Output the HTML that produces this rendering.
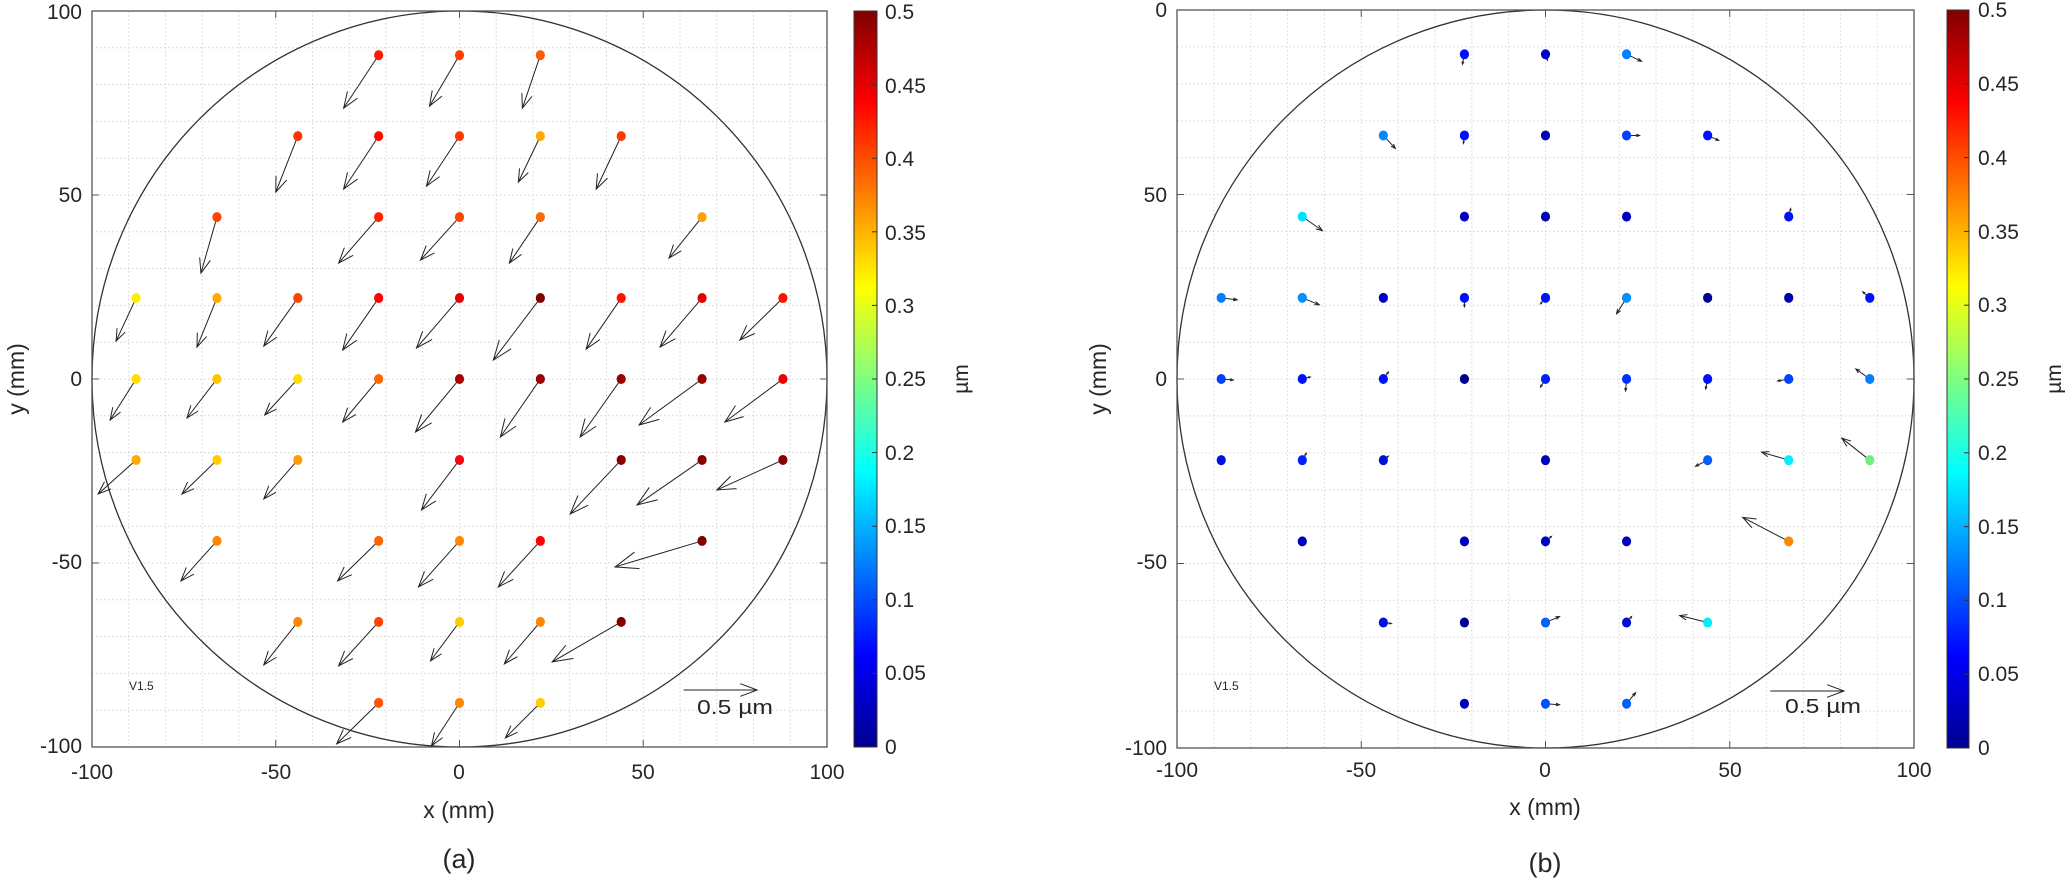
<!DOCTYPE html>
<html><head><meta charset="utf-8">
<style>
html,body{margin:0;padding:0;background:#fff;}
svg{display:block;}
text{font-family:"Liberation Sans",Arial,sans-serif;fill:#262626;}
</style></head>
<body>
<svg id="s" width="2065" height="885" viewBox="0 0 2065 885" xmlns="http://www.w3.org/2000/svg">
<defs>
<linearGradient id="jet" x1="0" y1="1" x2="0" y2="0">
<stop offset="0" stop-color="#00008f"/>
<stop offset="0.125" stop-color="#0000ff"/>
<stop offset="0.375" stop-color="#00ffff"/>
<stop offset="0.625" stop-color="#ffff00"/>
<stop offset="0.875" stop-color="#ff0000"/>
<stop offset="1" stop-color="#800000"/>
</linearGradient>
</defs>
<g id="gA"></g>
<g id="gB"></g>
<!-- Left labels -->
<g font-size="21" text-anchor="end">
<text x="82" y="19">100</text><text x="82" y="202">50</text><text x="82" y="386">0</text><text x="82" y="569">-50</text><text x="82" y="753">-100</text>
</g>
<g font-size="21" text-anchor="middle">
<text x="92" y="779">-100</text><text x="276" y="779">-50</text><text x="459" y="779">0</text><text x="643" y="779">50</text><text x="827" y="779">100</text>
</g>
<text x="459" y="818" font-size="23" text-anchor="middle">x (mm)</text>
<text x="459" y="868" font-size="27" text-anchor="middle">(a)</text>
<text transform="translate(24,379) rotate(-90)" font-size="23" text-anchor="middle">y (mm)</text>
<text x="129" y="690" font-size="12">V1.5</text>
<text x="697" y="714" font-size="20" textLength="76" lengthAdjust="spacingAndGlyphs">0.5 µm</text>
<!-- Left colorbar labels -->
<g font-size="21">
<text x="885" y="19">0.5</text><text x="885" y="93">0.45</text><text x="885" y="166">0.4</text><text x="885" y="240">0.35</text><text x="885" y="313">0.3</text><text x="885" y="386">0.25</text><text x="885" y="460">0.2</text><text x="885" y="533">0.15</text><text x="885" y="607">0.1</text><text x="885" y="680">0.05</text><text x="885" y="754">0</text>
</g>
<text transform="translate(968,379) rotate(-90)" font-size="21" text-anchor="middle">µm</text>

<!-- Right labels -->
<g font-size="21" text-anchor="end">
<text x="1167" y="17">0</text><text x="1167" y="202">50</text><text x="1167" y="386">0</text><text x="1167" y="569">-50</text><text x="1167" y="755">-100</text>
</g>
<g font-size="21" text-anchor="middle">
<text x="1177" y="777">-100</text><text x="1361" y="777">-50</text><text x="1545" y="777">0</text><text x="1730" y="777">50</text><text x="1914" y="777">100</text>
</g>
<text x="1545" y="815" font-size="23" text-anchor="middle">x (mm)</text>
<text x="1545" y="872" font-size="27" text-anchor="middle">(b)</text>
<text transform="translate(1106,379) rotate(-90)" font-size="23" text-anchor="middle">y (mm)</text>
<text x="1214" y="690" font-size="12">V1.5</text>
<text x="1785" y="713" font-size="20" textLength="76" lengthAdjust="spacingAndGlyphs">0.5 µm</text>
<g font-size="21">
<text x="1978" y="17">0.5</text><text x="1978" y="91">0.45</text><text x="1978" y="165">0.4</text><text x="1978" y="239">0.35</text><text x="1978" y="312">0.3</text><text x="1978" y="386">0.25</text><text x="1978" y="460">0.2</text><text x="1978" y="534">0.15</text><text x="1978" y="607">0.1</text><text x="1978" y="681">0.05</text><text x="1978" y="755">0</text>
</g>
<text transform="translate(2061,379) rotate(-90)" font-size="21" text-anchor="middle">µm</text>
</svg>
<script>
var NS="http://www.w3.org/2000/svg";
function el(p,n,a){var e=document.createElementNS(NS,n);for(var k in a)e.setAttribute(k,a[k]);p.appendChild(e);return e;}
function arrow(g,x1,y1,x2,y2,w,hs){
  el(g,"line",{x1:x1,y1:y1,x2:x2,y2:y2,stroke:"#222","stroke-width":w});
  var dx=x2-x1,dy=y2-y1,L=Math.sqrt(dx*dx+dy*dy);if(L<0.5)return;
  var h=hs||L*0.27,a=Math.atan2(dy,dx),t=0.36;
  el(g,"polyline",{points:(x2-h*Math.cos(a-t))+","+(y2-h*Math.sin(a-t))+" "+x2+","+y2+" "+(x2-h*Math.cos(a+t))+","+(y2-h*Math.sin(a+t)),fill:"none",stroke:"#222","stroke-width":w});
}
function panel(g,L,T,R,B,cbL,cbR,dots){
  var W=R-L,H=B-T,cx=(L+R)/2,cy=(T+B)/2,sx=W/200,sy=H/200;
  for(var v=-90;v<=90;v+=10){
    el(g,"line",{x1:cx+v*sx,y1:T,x2:cx+v*sx,y2:B,stroke:"#d4d4d4","stroke-width":1,"stroke-dasharray":"1.5,2.5"});
    el(g,"line",{x1:L,y1:cy-v*sy,x2:R,y2:cy-v*sy,stroke:"#d4d4d4","stroke-width":1,"stroke-dasharray":"1.5,2.5"});
  }
  el(g,"ellipse",{cx:cx,cy:cy,rx:W/2,ry:H/2,fill:"none",stroke:"#333","stroke-width":1.3});
  dots.forEach(function(d){
    var px=cx+d[0]*sx,py=cy-d[1]*sy;
    if(d[3]||d[4]) arrow(g,px,py,px+d[3],py+d[4],1,null);
  });
  dots.forEach(function(d){
    var px=cx+d[0]*sx,py=cy-d[1]*sy;
    el(g,"ellipse",{cx:px,cy:py,rx:4.6,ry:5,fill:d[2]});
  });
  el(g,"rect",{x:L,y:T,width:W,height:H,fill:"none",stroke:"#555","stroke-width":1.3});
  [-50,0,50].forEach(function(v){
    el(g,"line",{x1:cx+v*sx,y1:T,x2:cx+v*sx,y2:T+7,stroke:"#555"});
    el(g,"line",{x1:cx+v*sx,y1:B,x2:cx+v*sx,y2:B-7,stroke:"#555"});
    el(g,"line",{x1:L,y1:cy-v*sy,x2:L+7,y2:cy-v*sy,stroke:"#555"});
    el(g,"line",{x1:R,y1:cy-v*sy,x2:R-7,y2:cy-v*sy,stroke:"#555"});
  });
  // scale arrow
  arrow(g,cx+61*sx,B-57,cx+81*sx,B-57,1,18);
  // colorbar
  el(g,"rect",{x:cbL,y:T,width:cbR-cbL,height:H,fill:"url(#jet)",stroke:"#333","stroke-width":1});
  for(var i=1;i<10;i++){var yy=B-i*H/10;el(g,"line",{x1:cbR-5,y1:yy,x2:cbR,y2:yy,stroke:"#333"});}
}
var A=[
[-22,88,"#ff1a00",-35,53],[0,88,"#ff4000",-30,51],[22,88,"#ff5a00",-18,53],
[-44,66,"#ff3300",-22,56],[-22,66,"#ff0a00",-35,53],[0,66,"#ff3a00",-33,50],[22,66,"#ffaa00",-22,46],[44,66,"#ff3a00",-25,53],
[-66,44,"#ff4400",-16,56],[-22,44,"#ff2200",-40,46],[0,44,"#ff4400",-39,43],[22,44,"#ff6a00",-31,46],[66,44,"#ffa000",-33,41],
[-88,22,"#ffee00",-20,43],[-66,22,"#ffaa00",-20,49],[-44,22,"#ff4400",-34,48],[-22,22,"#ff0000",-36,52],[0,22,"#e80000",-43,50],[22,22,"#800000",-47,62],[44,22,"#ff1100",-35,51],[66,22,"#e80000",-42,49],[88,22,"#ff1100",-43,42],
[-88,0,"#ffdd00",-26,41],[-66,0,"#ffc400",-30,39],[-44,0,"#ffdd00",-33,36],[-22,0,"#ff6600",-36,43],[0,0,"#aa0000",-44,53],[22,0,"#990000",-40,58],[44,0,"#990000",-41,58],[66,0,"#990000",-63,46],[88,0,"#ee0000",-58,43],
[-88,-22,"#ffaa00",-38,34],[-66,-22,"#ffcc00",-35,34],[-44,-22,"#ffa000",-34,39],[0,-22,"#ff0011",-38,50],[44,-22,"#880000",-51,54],[66,-22,"#880000",-65,45],[88,-22,"#880000",-66,30],
[-66,-44,"#ff8800",-36,40],[-22,-44,"#ff6600",-41,40],[0,-44,"#ff8800",-41,46],[22,-44,"#ff0000",-42,46],[66,-44,"#800000",-87,26],
[-44,-66,"#ff8800",-34,43],[-22,-66,"#ff4400",-40,44],[0,-66,"#ffcc00",-29,39],[22,-66,"#ff8800",-36,42],[44,-66,"#800000",-69,40],
[-22,-88,"#ff5500",-42,41],[0,-88,"#ff8800",-28,43],[22,-88,"#ffcc00",-35,35]
];
var Bd=[
[-22,88,"#0010ff",-2,10],[0,88,"#0000cc",2,6],[22,88,"#0080ff",15,7],
[-44,66,"#0088ff",12,13],[-22,66,"#0010ff",-1,8],[0,66,"#0000b0",0,0],[22,66,"#0040ff",13,0],[44,66,"#0010ff",11,5],
[-66,44,"#00e0ff",20,14],[-22,44,"#0000c0",0,0],[0,44,"#0000b0",0,0],[22,44,"#0000c0",0,0],[66,44,"#0010ff",2,-8],
[-88,22,"#0080ff",16,2],[-66,22,"#0090ff",17,7],[-44,22,"#0000c0",0,0],[-22,22,"#0010ff",0,9],[0,22,"#0010ff",-5,6],[22,22,"#0090ff",-10,16],[44,22,"#000090",0,0],[66,22,"#0000b0",0,0],[88,22,"#0010ff",-7,-6],
[-88,0,"#0040ff",12,1],[-66,0,"#0010ff",8,-2],[-44,0,"#0010ff",5,-7],[-22,0,"#000090",0,0],[0,0,"#0020ff",-5,8],[22,0,"#0030ff",-1,12],[44,0,"#0010ff",-2,10],[66,0,"#0040ff",-11,2],[88,0,"#0080ff",-14,-10],
[-88,-22,"#0010e0",0,0],[-66,-22,"#0020ff",4,-7],[-44,-22,"#0010d0",5,-4],[0,-22,"#0000c0",0,0],[44,-22,"#0060ff",-12,6],[66,-22,"#00eeff",-27,-8],[88,-22,"#70f080",-28,-22],
[-66,-44,"#0000c0",0,0],[-22,-44,"#0000c0",0,0],[0,-44,"#0000c0",6,-5],[22,-44,"#0000c0",0,0],[66,-44,"#ff8800",-46,-24],
[-44,-66,"#0010e0",8,1],[-22,-66,"#000090",0,0],[0,-66,"#0060ff",14,-6],[22,-66,"#0010d0",5,-6],[44,-66,"#00eeff",-28,-7],
[-22,-88,"#0000c0",0,0],[0,-88,"#0050ff",14,1],[22,-88,"#0060ff",9,-11]
];
panel(document.getElementById("gA"),92,11,827,747,854,877,A);
panel(document.getElementById("gB"),1177,10,1914,748,1947,1969,Bd);
</script>
</body></html>
